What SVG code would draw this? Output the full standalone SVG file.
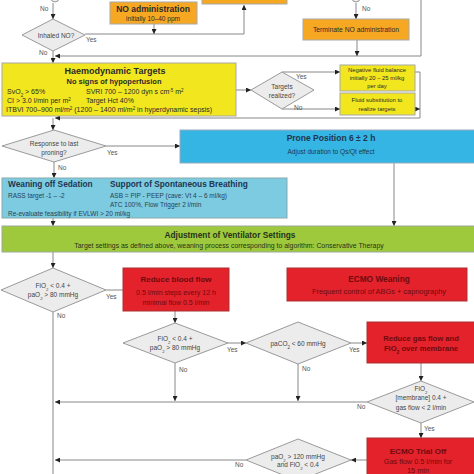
<svg xmlns="http://www.w3.org/2000/svg" width="474" height="474" viewBox="0 0 474 474">
<defs>
<marker id="ah" viewBox="0 0 6 6" refX="6" refY="3" markerWidth="5" markerHeight="5" orient="auto" markerUnits="userSpaceOnUse">
<path d="M0,0 L6,3 L0,6 z" fill="#222"/>
</marker>
<style>
text{font-family:"Liberation Sans",Arial,sans-serif;}
.ln{fill:none;stroke:#888;stroke-width:1;}
.arr{marker-end:url(#ah);}
.dia{fill:#ececec;stroke:#9a9a9a;stroke-width:1;}
.org{fill:#f7a823;stroke:#a8a8a8;stroke-width:1;}
.yel{fill:#f2e71e;stroke:#a8a8a8;stroke-width:1;}
.blu{fill:#35b5e4;stroke:#9ab;stroke-width:1;}
.lbl{fill:#7ccbe0;stroke:#8aa;stroke-width:1;}
.grn{fill:#9fc93c;stroke:#9a9;stroke-width:1;}
.red{fill:#e4222b;stroke:#a33;stroke-width:1;}
.t{font-size:6.5px;fill:#444;}
.lab{font-size:6.5px;fill:#555;}
.c{text-anchor:middle;}
.b{font-weight:bold;}
.dk{fill:#2a2a2a;}
.rt{fill:#6e0b0e;}
</style>
</defs>
<rect width="474" height="474" fill="#fff"/>

<g id="connectors">
<line class="ln arr" x1="53" y1="3" x2="53" y2="19"/>
<polyline class="ln arr" points="85,34 244,34 244,5"/>
<line class="ln arr" x1="154" y1="24" x2="154" y2="34"/>
<line class="ln arr" x1="53" y1="51" x2="53" y2="63"/>
<polyline class="ln arr" points="421,0 421,56 55,56"/>
<line class="ln arr" x1="356" y1="3" x2="356" y2="19"/>
<line class="ln arr" x1="357" y1="40" x2="357" y2="56"/>
<line class="ln arr" x1="236" y1="90" x2="251" y2="90"/>
<polyline class="ln arr" points="282,72 340,72"/>
<polyline class="ln arr" points="282,109 340,109"/>
<polyline class="ln arr" points="415,72 420,72 420,118 55,118"/>
<line class="ln arr" x1="414" y1="109" x2="420" y2="109"/>
<line class="ln arr" x1="53" y1="118" x2="53" y2="130"/>
<line class="ln arr" x1="106" y1="146" x2="180" y2="146"/>
<line class="ln arr" x1="54" y1="162" x2="54" y2="178"/>
<line class="ln arr" x1="394" y1="163" x2="394" y2="226"/>
<line class="ln arr" x1="53" y1="218" x2="53" y2="226"/>
<line class="ln arr" x1="53" y1="252" x2="53" y2="268"/>
<line class="ln" x1="106" y1="290" x2="123" y2="290"/>
<line class="ln" x1="53" y1="312" x2="53" y2="474"/>
<line class="ln arr" x1="175" y1="311" x2="175" y2="323"/>
<line class="ln arr" x1="228" y1="343" x2="246" y2="343"/>
<line class="ln arr" x1="175" y1="363" x2="175" y2="401"/>
<line class="ln arr" x1="351" y1="343" x2="367" y2="343"/>
<line class="ln arr" x1="298" y1="364" x2="298" y2="401"/>
<line class="ln arr" x1="421" y1="363" x2="421" y2="381"/>
<line class="ln arr" x1="367" y1="402" x2="55" y2="402"/>
<line class="ln arr" x1="421" y1="423" x2="421" y2="438"/>
<line class="ln arr" x1="367" y1="460" x2="351" y2="460"/>
<line class="ln arr" x1="246" y1="460" x2="55" y2="460"/>
<text class="lab" x="40" y="11">No</text>
<text class="lab" x="86" y="42">Yes</text>
<text class="lab" x="39" y="55">No</text>
<text class="lab" x="362" y="11">No</text>
<text class="lab" x="296" y="79">Yes</text>
<text class="lab" x="294" y="110">No</text>
<text class="lab" x="107" y="155">Yes</text>
<text class="lab" x="58" y="170">No</text>
<text class="lab" x="106" y="299">Yes</text>
<text class="lab" x="57" y="318">No</text>
<text class="lab" x="227" y="352">Yes</text>
<text class="lab" x="179" y="372">No</text>
<text class="lab" x="349" y="352">Yes</text>
<text class="lab" x="302" y="371">No</text>
<text class="lab" x="357" y="409">No</text>
<text class="lab" x="424" y="431">Yes</text>
<text class="lab" x="235" y="467">No</text>
</g>

<g id="top-left-decision"><circle class="dia" cx="55" cy="-2" r="4"/></g>
<g id="top-right-decision"><circle class="dia" cx="356" cy="-2" r="4"/></g>
<g id="top-box"><rect class="org" x="202" y="-20" width="85" height="24"/></g>

<g id="no-admin">
<rect class="org" x="110" y="2" width="87" height="22"/>
<text class="c b dk" x="153" y="12" font-size="8.5">NO administration</text>
<text class="c dk" x="153" y="20.5" font-size="6.5">initially 10–40 ppm</text>
</g>

<g id="inhaled-no">
<polygon class="dia" points="22,35 53,19 85,35 53,51"/>
<text class="c t" x="56" y="37.5" font-size="7">Inhaled NO?</text>
</g>

<g id="terminate-no">
<rect class="org" x="303" y="19" width="106" height="21"/>
<text class="c dk" x="356" y="32" font-size="6.8">Terminate NO administration</text>
</g>

<g id="haemodynamic">
<rect class="yel" x="2" y="63" width="234" height="53"/>
<text class="c b dk" x="115" y="74" font-size="9">Haemodynamic Targets</text>
<text class="c b dk" x="114" y="83.5" font-size="7.5">No signs of hypoperfusion</text>
<text class="dk" x="7" y="93.5" font-size="7">SvO<tspan font-size="4.5" baseline-shift="sub">2</tspan> &gt; 65%</text>
<text class="dk" x="86" y="93.5" font-size="7">SVRI 700 – 1200 dyn s cm<tspan font-size="4.5" baseline-shift="super">-5</tspan> m<tspan font-size="4.5" baseline-shift="super">2</tspan></text>
<text class="dk" x="7" y="102.5" font-size="7">CI &gt; 3.0 l/min per m<tspan font-size="4.5" baseline-shift="super">2</tspan></text>
<text class="dk" x="86" y="102.5" font-size="7">Target Hct 40%</text>
<text class="dk" x="6" y="111.5" font-size="7">ITBVI 700–900 ml/m<tspan font-size="4.5" baseline-shift="super">2</tspan> (1200 – 1400 ml/m<tspan font-size="4.5" baseline-shift="super">2</tspan> in hyperdynamic sepsis)</text>
</g>

<g id="targets-realized">
<polygon class="dia" points="251,90 282,72 314,90 282,109"/>
<text class="c t" x="282" y="88.5">Targets</text>
<text class="c t" x="282" y="97.5">realized?</text>
</g>

<g id="negative-fluid">
<rect class="yel" x="340" y="65" width="75" height="26"/>
<text class="c dk" x="377" y="71.5" font-size="5.9">Negative fluid balance</text>
<text class="c dk" x="377" y="80" font-size="5.9">initially 20 – 25 ml/kg</text>
<text class="c dk" x="377" y="88" font-size="5.9">per day</text>
</g>

<g id="fluid-substitution">
<rect class="yel" x="340" y="93" width="75" height="22"/>
<text class="c dk" x="377" y="102" font-size="5.9">Fluid substitution to</text>
<text class="c dk" x="377" y="110.5" font-size="5.9">realize targets</text>
</g>

<g id="response-proning">
<polygon class="dia" points="2,146 54,130 106,146 54,162"/>
<text class="c t" x="54" y="146">Response to last</text>
<text class="c t" x="54" y="155">proning?</text>
</g>

<g id="prone-position">
<rect class="blu" x="180" y="130" width="295" height="33"/>
<text class="c b" x="331" y="141" font-size="8.5" fill="#1f3550">Prone Position 6 ± 2 h</text>
<text class="c" x="331" y="154" font-size="6.5" fill="#1f3550">Adjust duration to Qs/Qt effect</text>
</g>

<g id="weaning">
<rect class="lbl" x="2" y="178" width="285" height="40"/>
<text class="b" x="8" y="187" font-size="8.3" fill="#1f3550">Weaning off Sedation</text>
<text class="b" x="110" y="187" font-size="8.3" fill="#1f3550">Support of Spontaneous Breathing</text>
<text x="8" y="197.5" font-size="6.5" fill="#2a3f55">RASS target -1 – -2</text>
<text x="110" y="197.5" font-size="6.5" fill="#2a3f55">ASB = PIP - PEEP (cave: Vt 4 – 6 ml/kg)</text>
<text x="110" y="206.5" font-size="6.5" fill="#2a3f55">ATC 100%, Flow Trigger 2 l/min</text>
<text x="8" y="215.5" font-size="6.5" fill="#2a3f55">Re-evaluate feasibility if EVLWI &gt; 20 ml/kg</text>
</g>

<g id="ventilator">
<rect class="grn" x="2" y="226" width="473" height="26"/>
<text class="c b" x="230" y="238" font-size="8.3" fill="#26331a">Adjustment of Ventilator Settings</text>
<text class="c" x="229" y="247.5" font-size="6.9" fill="#26331a">Target settings as defined above, weaning process corresponding to algorithm: Conservative Therapy</text>
</g>

<g id="decision-1">
<polygon class="dia" points="1,290 53,268 106,290 53,312"/>
<text class="c t" x="53" y="287.5">FiO<tspan font-size="4.3" baseline-shift="sub">2</tspan> &lt; 0.4 +</text>
<text class="c t" x="53" y="296.5">paO<tspan font-size="4.3" baseline-shift="sub">2</tspan> &gt; 80 mmHg</text>
</g>

<g id="reduce-blood-flow">
<rect class="red" x="123" y="268" width="106" height="43"/>
<text class="c b rt" x="176" y="282" font-size="8">Reduce blood flow</text>
<text class="c rt" x="176" y="294.5" font-size="7">0.5 l/min steps every 12 h</text>
<text class="c rt" x="176" y="304.5" font-size="7">minimal flow 0.5 l/min</text>
</g>

<g id="ecmo-weaning">
<rect class="red" x="287" y="268" width="180" height="33"/>
<text class="c b rt" x="379" y="282" font-size="8.3">ECMO Weaning</text>
<text class="c rt" x="379" y="293.5" font-size="7.4">Frequent control of ABGs + capnography</text>
</g>

<g id="decision-2">
<polygon class="dia" points="123,343 175,323 228,343 175,363"/>
<text class="c t" x="175" y="341">FiO<tspan font-size="4.3" baseline-shift="sub">2</tspan> &lt; 0.4 +</text>
<text class="c t" x="175" y="350">paO<tspan font-size="4.3" baseline-shift="sub">2</tspan> &gt; 80 mmHg</text>
</g>

<g id="decision-3">
<polygon class="dia" points="246,343 298,322 351,343 298,364"/>
<text class="c t" x="298" y="345.5" font-size="7">paCO<tspan font-size="4.5" baseline-shift="sub">2</tspan> &lt; 60 mmHg</text>
</g>

<g id="reduce-gas-flow">
<rect class="red" x="367" y="322" width="108" height="41"/>
<text class="c b rt" x="421" y="340.5" font-size="7.6">Reduce gas flow and</text>
<text class="c b rt" x="421" y="351" font-size="7.6">FiO<tspan font-size="5" baseline-shift="sub">2</tspan> over membrane</text>
</g>

<g id="decision-4">
<polygon class="dia" points="367,402 421,381 474,402 421,423"/>
<text class="c t" x="421" y="391">FiO<tspan font-size="4.3" baseline-shift="sub">2</tspan></text>
<text class="c t" x="421" y="400">[membrane] 0.4 +</text>
<text class="c t" x="421" y="409.5">gas flow &lt; 2 l/min</text>
</g>

<g id="ecmo-trial-off">
<rect class="red" x="367" y="438" width="108" height="50"/>
<text class="c b rt" x="418" y="453.5" font-size="8">ECMO Trial Off</text>
<text class="c rt" x="418" y="463.5" font-size="7.3">Gas flow 0.5 l/min for</text>
<text class="c rt" x="418" y="472.5" font-size="7.3">15 min</text>
</g>

<g id="decision-5">
<polygon class="dia" points="246,460 298,439 351,460 298,481"/>
<text class="c t" x="298" y="458.5">paO<tspan font-size="4.3" baseline-shift="sub">2</tspan> &gt; 120 mmHg</text>
<text class="c t" x="298" y="467">and FiO<tspan font-size="4.3" baseline-shift="sub">2</tspan> &lt; 0.4</text>
</g>
</svg>
